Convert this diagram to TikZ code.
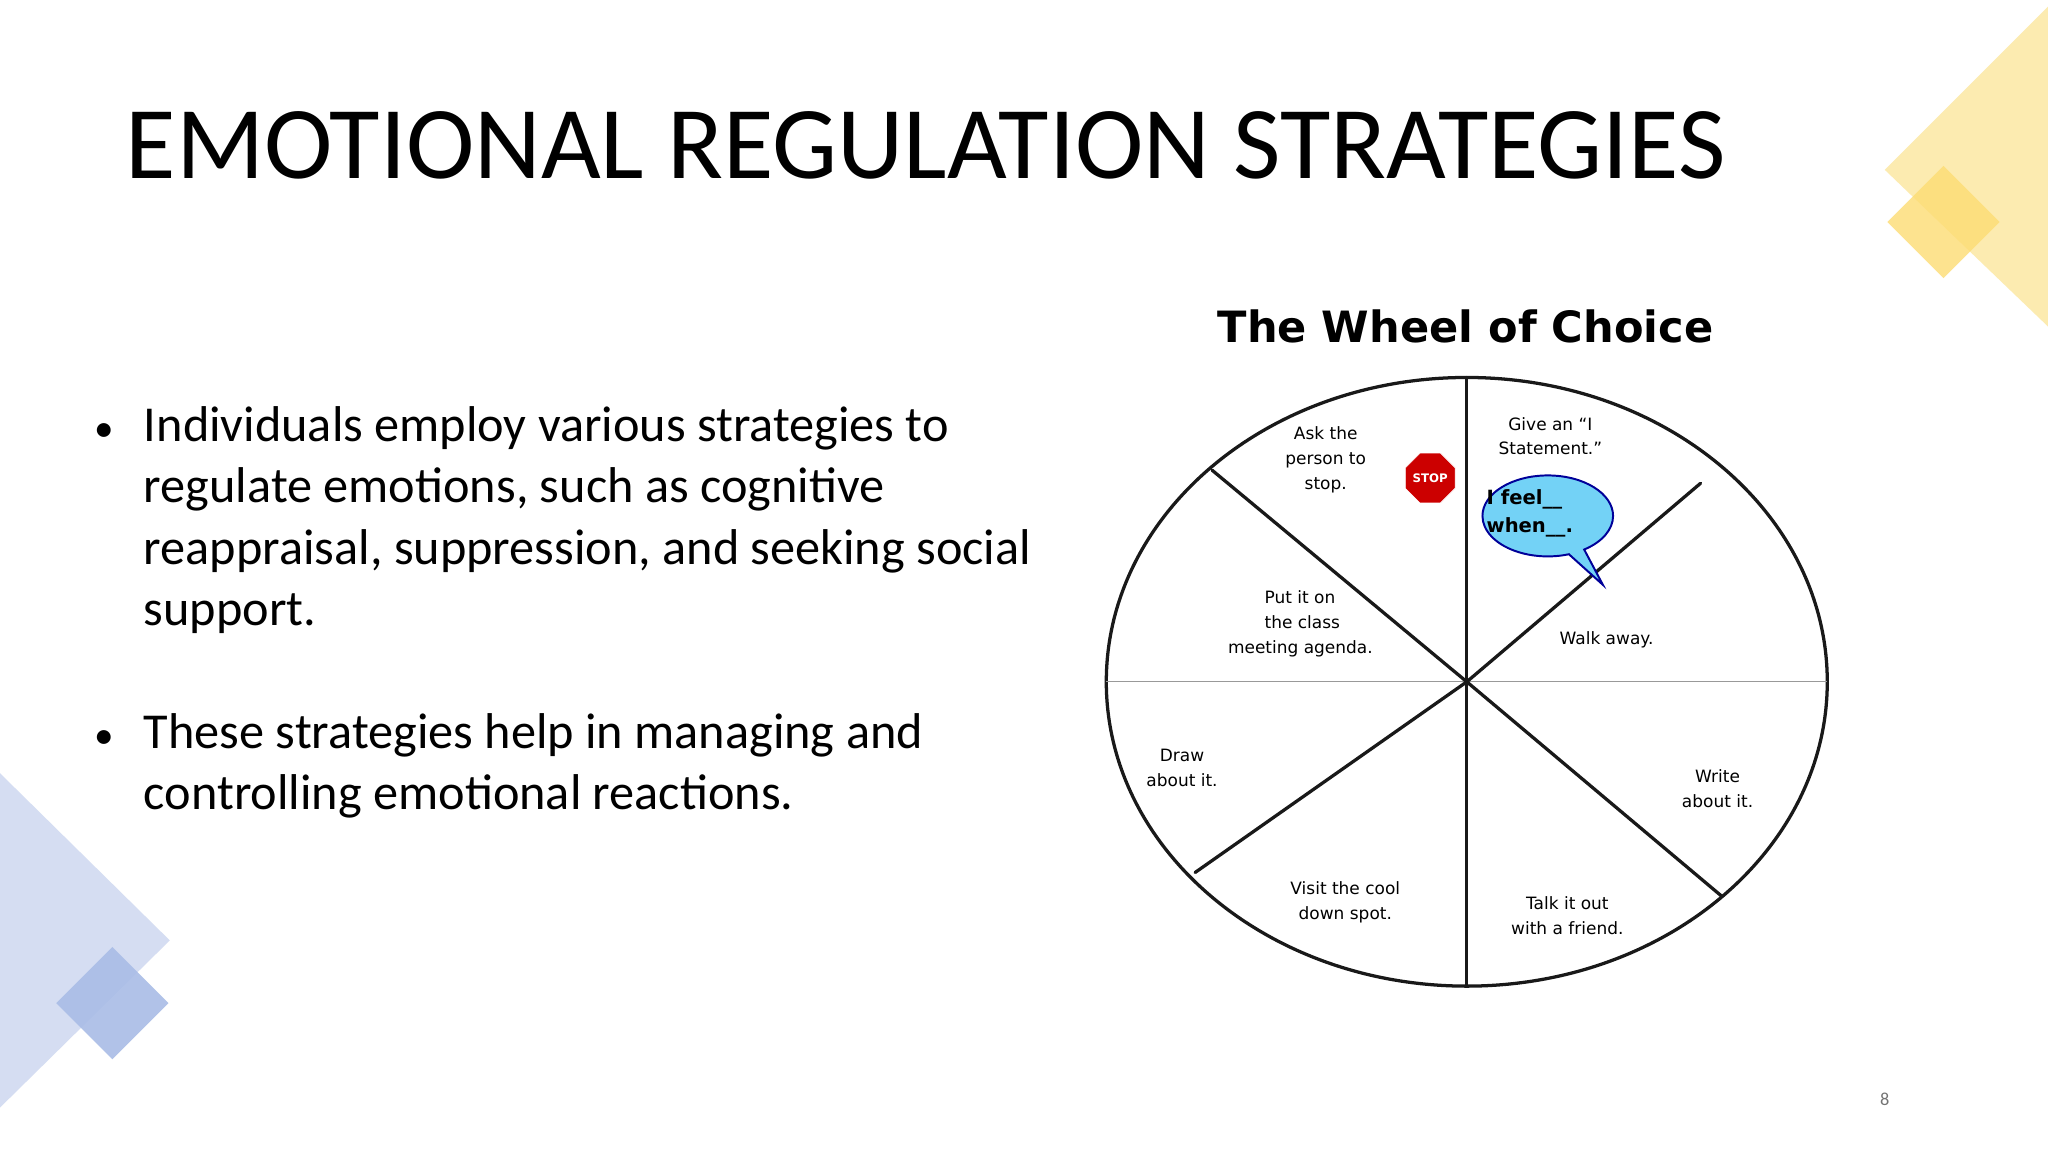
\documentclass[tikz,border=0pt]{standalone}
\usepackage{fontspec}
\setmainfont{Carlito}
\newfontfamily\wheelfont{DejaVu Sans}
\usetikzlibrary{shapes.geometric,shapes.callouts}
\definecolor{ylight}{HTML}{FCEBB0}
\definecolor{ydark}{HTML}{FDDC73}
\definecolor{blight}{HTML}{D5DDF2}
\definecolor{bdark}{HTML}{A9BCE6}
\begin{document}
\begin{tikzpicture}[x=1pt,y=-1pt,
  lab/.style={font=\wheelfont\fontsize{13}{19}\selectfont, align=center, inner sep=0},
  bul/.style={font=\fontsize{38.5}{47}\selectfont, align=left, anchor=north west, inner sep=0},
  dot/.style={font=\fontsize{30}{47}\selectfont, anchor=base west, inner sep=0},
  spoke/.style={line width=2.5pt, black!90, line cap=round}]
\useasboundingbox (0,0) rectangle (1568,882);
\fill[white] (0,0) rectangle (1568,882);
% decorations
\fill[ylight] (1443,130) -- (1568,5) -- (1568,250) -- cycle;
\fill[ydark,opacity=.8] (1488,127) -- (1531,170) -- (1488,213) -- (1445,170) -- cycle;
\fill[blight] (0,592) -- (130,720) -- (0,848) -- cycle;
\fill[bdark,opacity=.9] (86,725) -- (129,768) -- (86,811) -- (43,768) -- cycle;
% title
\node[anchor=base west, inner sep=0, font=\fontsize{79}{90}\selectfont] (title) at (96,137) {EMOTIONAL REGULATION STRATEGIES};
% bullets
\node[dot] (b1) at (72,338) {\textbullet};
\node[bul] (t1) at (110,311) {Individuals employ various strategies to\\regulate emotions, such as cognitive\\reappraisal, suppression, and seeking social\\support.};
\node[dot] (b2) at (72,573) {\textbullet};
\node[bul] (t2) at (110,546) {These strategies help in managing and\\controlling emotional reactions.};
% wheel
\node[inner sep=0, font=\wheelfont\bfseries\fontsize{33}{36}\selectfont] (wt) at (1122,250) {The Wheel of Choice};
\coordinate (c) at (1123,522);
\draw[spoke] (c) ellipse[x radius=276, y radius=233];
\coordinate (pN) at (1123,289); \coordinate (pS) at (1123,755);
\coordinate (pW) at (847,522); \coordinate (pE) at (1399,522);
\coordinate (pNW) at (928,360); \coordinate (pNE) at (1302,370);
\coordinate (pSW) at (915,668); \coordinate (pSE) at (1318,686);
\draw[spoke] (pN) -- (pS);
\draw[line width=1pt, black!40] (pW) -- (pE);
\draw[spoke] (c) -- (pNW);
\draw[spoke] (c) -- (pNE);
\draw[spoke] (c) -- (pSW);
\draw[spoke] (c) -- (pSE);
% clipart approximations
\node[regular polygon, regular polygon sides=8, fill=red!80!black, draw=white, minimum size=30pt, inner sep=0, font=\wheelfont\bfseries\fontsize{9}{9}\selectfont, text=white] (stop) at (1095,366) {STOP};
\node[ellipse callout, callout relative pointer={(20pt,-25pt)}, fill=cyan!55, draw=blue!60!black, line width=1.5pt, minimum width=100pt, minimum height=62pt] (bubble) at (1185,395) {};
\node[lab, font=\wheelfont\bfseries\fontsize{15}{22}\selectfont, align=left, anchor=west] (ifeel) at (1138,393) {I feel\_\_\\when\_\_.};
% labels
\node[lab] (l1) at (1015,352) {Ask the\\person to\\stop.};
\node[lab] (l2) at (1187,334) {Give an “I\\Statement.”};
\node[lab] (l3) at (1230,490) {Walk away.};
\node[lab, align=left, anchor=north west] (l4a) at (968,452) {Put it on\\the class};
\node[lab, anchor=north west] (l4b) at (940,490) {meeting agenda.};
\node[lab] (l5) at (905,588) {Draw\\about it.};
\node[lab] (l6) at (1315,604) {Write\\about it.};
\node[lab] (l7) at (1030,691) {Visit the cool\\down spot.};
\node[lab] (l8) at (1200,701) {Talk it out\\with a friend.};
% page number
\node[font=\fontsize{14}{16}\selectfont, text=black!55] (pg) at (1443,842) {8};
\end{tikzpicture}
\end{document}
